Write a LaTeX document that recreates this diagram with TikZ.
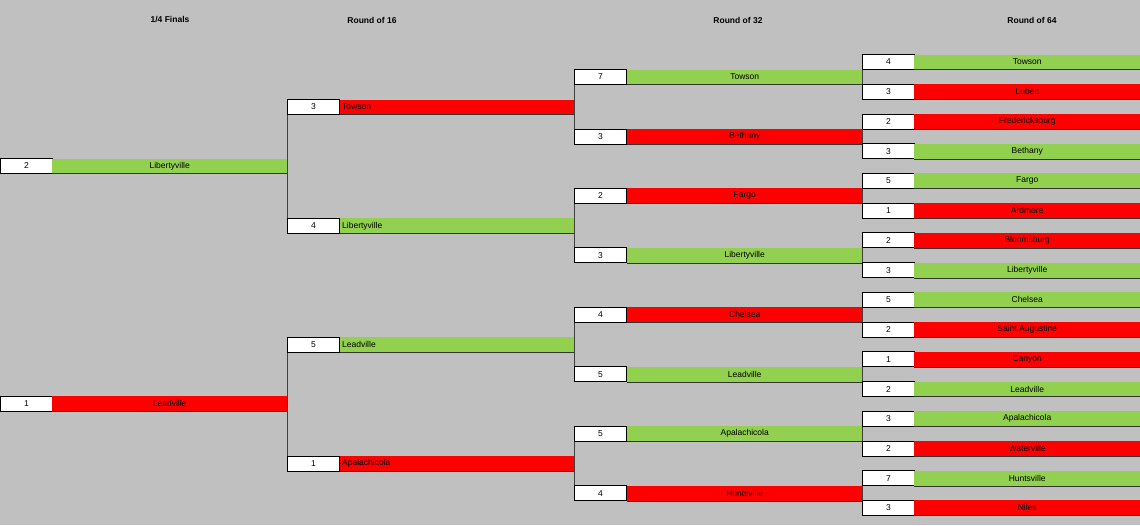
\documentclass[tikz,border=0pt]{standalone}
\usepackage{fontspec}
\setmainfont{Liberation Sans}
\definecolor{bg}{RGB}{192,192,192}
\definecolor{win}{RGB}{146,208,80}
\definecolor{lose}{RGB}{255,0,0}
\begin{document}
\begin{tikzpicture}[x=1pt,y=-1pt,
  score/.style={draw=black,line width=0.9pt,fill=white,minimum width=52pt,minimum height=15pt,inner sep=0pt,anchor=west,font=\fontsize{8.5}{9}\selectfont},
  bar/.style={fill=#1,minimum height=15pt,inner sep=0pt,anchor=west,font=\fontsize{8.5}{9}\selectfont},
  hdr/.style={font=\bfseries\fontsize{8.5}{9}\selectfont},
  link/.style={draw=black!75,line width=0.6pt}]
\fill[bg] (0,0) rectangle (1140,525);
\useasboundingbox (0,0) rectangle (1140,525);
\node[hdr] (h1) at (170,20) {1/4 Finals};
\node[hdr] (h2) at (372,20) {Round of 16};
\node[hdr] (h3) at (738,20) {Round of 32};
\node[hdr] (h4) at (1032,20) {Round of 64};
% Round of 64
\foreach \s/\n/\c [count=\i from 0] in {4/Towson/win,3/Lubec/lose,2/Fredericksburg/lose,3/Bethany/win,5/Fargo/win,1/Ardmore/lose,2/Bloomsburg/lose,3/Libertyville/win,5/Chelsea/win,2/Saint Augustine/lose,1/Canyon/lose,2/Leadville/win,3/Apalachicola/win,2/Waterville/lose,7/Huntsville/win,3/Niles/lose}{
  \pgfmathsetmacro\yy{62+29.73*\i}
  \node[score] (a\i) at (862,\yy) {\s};
  \node[bar=\c,minimum width=226pt] (ab\i) at (914,\yy) {\n};
  \draw[black!80,line width=0.6pt] (ab\i.south west) -- (ab\i.south east);
}
% Round of 32
\foreach \s/\n/\c [count=\i from 0] in {7/Towson/win,3/Bethany/lose,2/Fargo/lose,3/Libertyville/win,4/Chelsea/lose,5/Leadville/win,5/Apalachicola/win,4/Huntsville/lose}{
  \pgfmathsetmacro\yy{77+59.45*\i}
  \node[score] (b\i) at (574,\yy) {\s};
  \node[bar=\c,minimum width=235pt] (bb\i) at (627,\yy) {\n};
  \draw[black!80,line width=0.6pt] (bb\i.south west) -- (bb\i.south east);
}
% Round of 16
\foreach \s/\n/\c [count=\i from 0] in {3/Towson/lose,4/Libertyville/win,5/Leadville/win,1/Apalachicola/lose}{
  \pgfmathsetmacro\yy{107+118.9*\i}
  \node[score] (c\i) at (287,\yy) {\s};
  \node[bar=\c,minimum width=234pt,text width=230pt,align=left,inner xsep=2pt] (cb\i) at (340,\yy) {\n};
  \draw[black!80,line width=0.6pt] (cb\i.south west) -- (cb\i.south east);
}
% Quarter finals
\foreach \s/\n/\c [count=\i from 0] in {2/Libertyville/win,1/Leadville/lose}{
  \pgfmathsetmacro\yy{166+237.8*\i}
  \node[score] (d\i) at (0,\yy) {\s};
  \node[bar=\c,minimum width=235pt] (db\i) at (52,\yy) {\n};
  \draw[black!80,line width=0.6pt] (db\i.south west) -- (db\i.south east);
}
% connectors
\foreach \p/\q in {0/1,2/3,4/5,6/7,8/9,10/11,12/13,14/15}{\draw[link] (a\p.south west) -- (a\q.north west);}
\foreach \p/\q in {0/1,2/3,4/5,6/7}{\draw[link] (b\p.south west) -- (b\q.north west);}
\foreach \p/\q in {0/1,2/3}{\draw[link] (c\p.south west) -- (c\q.north west);}
\end{tikzpicture}
\end{document}
